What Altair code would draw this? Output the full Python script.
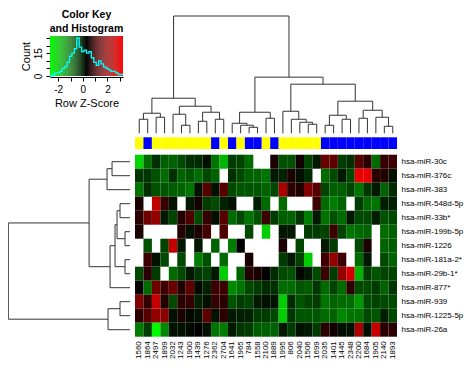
import altair as alt
import pandas as pd
import numpy as np

# ---------------- data ----------------
col_labels = ["1560","1864","2497","1899","2032","1243","1900","1439","1276","2362","2704",
              "1641","1965","784","1558","2100","1889","1995","806","2040","1506","1699",
              "2035","1401","1445","2348","2200","1684","1905","2140","1893"]
col_groups = ["Y","B","Y","Y","Y","Y","Y","Y","Y","B","Y","B","Y","B","B","Y","B",
              "Y","Y","Y","Y","Y","B","B","B","B","B","B","B","B","B"]
row_labels = ["hsa-miR-30c","hsa-miR-376c","hsa-miR-383","hsa-miR-548d-5p","hsa-miR-33b*",
              "hsa-miR-199b-5p","hsa-miR-1226","hsa-miR-181a-2*","hsa-miR-29b-1*",
              "hsa-miR-877*","hsa-miR-939","hsa-miR-1225-5p","hsa-miR-26a"]
N = None
z_30c  = [-2.2,-0.95,-0.25,-0.8,-0.85,-0.55,-0.25,-0.2,0.1,-1.05,-1.8,-0.4,-0.5,-0.95,N,N,0.6,-0.65,-0.65,0.5,-0.5,0.0,1.5,1.4,-0.4,-0.25,1.3,0.8,-0.95,0.9,1.0]
z_376c = [-0.35,-0.35,-0.65,-0.95,-0.25,-0.85,-0.7,-0.95,-0.55,-0.85,N,-0.25,-0.55,-0.85,-0.85,-1.05,0.0,-0.1,0.6,0.1,-0.2,N,-0.95,-0.55,0.0,-0.55,3.0,3.0,0.8,0.7,0.1]
z_383  = [-1.05,-0.25,-0.65,-0.7,-0.8,-0.85,-1.05,0.1,1.3,0.1,1.3,-0.55,-0.7,-0.7,-0.7,-0.85,-0.55,2.3,0.8,0.7,1.8,1.3,-0.5,-0.8,-0.8,-0.5,-1.05,-0.35,0.0,-0.85,-0.2]
z_548d = [0.6,N,2.5,0.9,0.1,N,0.0,0.5,-0.4,-0.55,-0.1,0.1,N,N,-0.05,-0.95,N,-0.95,N,N,N,1.0,-0.95,-1.15,-0.85,N,-0.4,-0.95,-1.05,-0.05,-0.05]
z_33b  = [0.8,1.6,2.0,0.0,-0.5,0.7,1.2,-0.55,0.9,0.1,1.3,-0.95,-0.55,-1.05,-0.65,1.0,-0.4,-0.8,-0.85,-0.35,-1.15,0.0,-1.05,-0.65,-0.95,0.0,-0.55,-0.55,-0.05,-0.65,-0.55]
z_199b = [0.6,N,N,N,N,0.7,0.1,0.6,1.1,N,1.2,N,N,-0.55,N,-2.1,N,0.0,0.0,N,-0.4,-0.4,-0.5,1.0,-0.5,-1.05,-0.95,-0.85,N,-0.95,-0.85]
z_1226 = [N,-0.65,N,-0.5,2.6,0.0,N,0.0,N,-0.85,N,-1.15,0.3,N,N,N,N,0.6,N,-0.5,N,N,0.0,-0.4,N,N,-0.55,0.6,N,-0.85,-0.8]
z_181a = [N,1.0,0.1,-0.55,N,-0.55,N,-1.15,-0.65,N,-0.95,N,N,0.6,N,N,N,-0.4,0.0,-0.5,-2.1,N,1.0,2.0,1.0,N,-0.95,0.0,N,-0.55,-0.85]
z_29b  = [-0.55,0.8,-0.4,N,-0.95,-0.55,0.0,-0.35,-0.5,0.0,-2.1,N,-0.85,0.7,0.6,0.3,-0.2,-0.55,-0.65,0.2,0.0,-0.55,1.0,-0.4,2.0,2.8,-1.8,-0.4,-0.7,-0.5,-0.5]
z_877  = [0.4,-0.95,1.6,1.0,1.5,0.7,1.4,0.2,-0.1,1.0,1.0,-1.3,-1.05,-0.55,-0.4,-0.2,-0.25,-0.95,-0.95,-0.7,-0.8,-0.35,-0.95,-0.5,-0.95,0.8,-0.55,-0.55,-0.4,-0.85,-0.35]
z_939  = [1.8,0.9,2.6,0.7,-0.55,0.8,0.9,-0.1,0.1,0.9,0.8,-0.65,-0.4,-0.5,0.0,0.1,0.1,-2.1,-0.2,-0.7,-0.5,-0.4,-1.05,-0.85,-0.95,-0.95,-1.5,-0.55,-0.5,-0.55,-0.55]
z_1225 = [0.8,1.3,2.0,1.9,0.1,0.6,0.2,0.1,1.4,0.1,0.8,0.0,-0.05,-0.1,-0.4,-0.4,-0.55,-2.1,-0.35,-0.7,-0.7,-0.7,-0.95,-0.85,-1.3,-1.05,-1.05,-0.55,-0.7,-0.05,-0.55]
z_26a  = [-1.15,-0.4,-2.6,-1.3,0.1,0.1,0.2,0.3,0.1,-1.05,-1.15,0.0,-0.35,-0.4,-0.8,-0.85,-0.85,0.0,-0.4,0.1,0.0,-0.4,0.8,0.5,0.1,0.1,2.3,0.1,2.6,0.8,0.8]
z_rows = [z_30c, z_376c, z_383, z_548d, z_33b, z_199b, z_1226, z_181a, z_29b, z_877, z_939, z_1225, z_26a]

# dendrogram merges (R hclust style: negative = leaf, positive = earlier merge), heights
col_merges = [(-1,-2,14),(-3,-4,16),(1,2,20),(-6,-7,8),(-5,4,19),(-8,-9,12),(-10,-11,14),
              (6,7,21),(5,8,27),(3,9,35),(-14,-15,6),(-13,11,8),(-12,12,10),(-16,-17,15),
              (13,14,21),(-21,-22,9),(-20,16,11),(-19,17,14),(-18,18,22),(-23,-24,8),
              (-25,-26,14),(20,21,18),(-27,-28,15),(-30,-31,7),(-29,24,16),(23,25,23),
              (22,26,32),(19,27,49),(15,28,56),(10,29,117)]
row_merges = [(-1,-2,18),(1,-3,23),(-4,-5,10),(-6,-7,5),(3,4,13),(-8,-9,5),(5,6,15),
              (7,-10,20),(2,8,41),(-11,-12,10),(10,-13,22),(9,11,122)]

# colour key histogram counts
hist_counts = [0,1,2,2,3,5,6,9,13,15,18,25,19,16,17,15,16,12,9,7,10,8,6,5,4,3,3,2,1,1]
key_min, key_max = -2.67, 3.26

# ---------------- layout (pixel ranges) ----------------
W, H = 456, 356
HX = [127, 389]
HY = [146.7, 328.7]
CB_Y = [129.3, 141]
CD_Y = [125.3, 8]
RD_X = [122, 0.3]
KX = [42, 115]
KY = [68, 28]
FONT = "Liberation Sans"

zscale = alt.Scale(domain=[key_min, (key_min + key_max) / 2, key_max],
                   range=["#00ff00", "#000000", "#ff0000"], interpolate="rgb")

def dendro_segments(merges):
    pos, hts, segs = {}, {}, []
    def getp(k):
        if k < 0:
            return (-k - 1, 0.0)
        return (pos[k], hts[k])
    for i, (a, b, h) in enumerate(merges, start=1):
        pa, ha = getp(a)
        pb, hb = getp(b)
        segs.append((pa, pa, ha, h))
        segs.append((pb, pb, hb, h))
        segs.append((pa, pb, h, h))
        pos[i] = (pa + pb) / 2
        hts[i] = h
    return pd.DataFrame(segs, columns=["p", "p2", "h", "h2"])

# heatmap
heat_df = pd.DataFrame([{"row": row_labels[i], "col": col_labels[j], "z": v}
                        for i, r in enumerate(z_rows) for j, v in enumerate(r) if v is not None])
xband = alt.Scale(domain=col_labels, range=HX, padding=0)
heat = alt.Chart(heat_df).mark_rect(strokeWidth=0).encode(
    x=alt.X("col:N", scale=xband,
            axis=alt.Axis(orient="bottom", offset=HY[1] - H, labelAngle=-90, ticks=False,
                          domain=False, title=None, labelFontSize=8, labelPadding=4,
                          labelFont=FONT, labelColor="#000", grid=False)),
    y=alt.Y("row:N", scale=alt.Scale(domain=row_labels, range=HY, padding=0),
            axis=alt.Axis(orient="right", offset=HX[1] - W, ticks=False, domain=False,
                          title=None, labelFontSize=8, labelPadding=4, labelFont=FONT,
                          labelColor="#000", grid=False)),
    color=alt.Color("z:Q", scale=zscale, legend=None),
)

# column side colour bar
cb_df = pd.DataFrame({"col": col_labels, "group": col_groups, "track": "g"})
colorbar = alt.Chart(cb_df).mark_rect(strokeWidth=0).encode(
    x=alt.X("col:N", scale=xband, axis=None),
    y=alt.Y("track:N", scale=alt.Scale(range=CB_Y, padding=0), axis=None),
    color=alt.Color("group:N", scale=alt.Scale(domain=["Y", "B"], range=["#ffff00", "#0000ff"]),
                    legend=None),
)

# column dendrogram
cd = dendro_segments(col_merges)
col_dendro = alt.Chart(cd).mark_rule(color="#333333", strokeWidth=1).encode(
    x=alt.X("p:Q", scale=alt.Scale(domain=[-0.5, len(col_labels) - 0.5], range=HX, nice=False, zero=False), axis=None),
    x2="p2:Q",
    y=alt.Y("h:Q", scale=alt.Scale(domain=[0, 117], range=CD_Y, nice=False, zero=False), axis=None),
    y2="h2:Q",
)

# row dendrogram
rd = dendro_segments(row_merges)
row_dendro = alt.Chart(rd).mark_rule(color="#333333", strokeWidth=1).encode(
    y=alt.Y("p:Q", scale=alt.Scale(domain=[-0.5, len(row_labels) - 0.5], range=HY, nice=False, zero=False), axis=None),
    y2="p2:Q",
    x=alt.X("h:Q", scale=alt.Scale(domain=[0, 122], range=RD_X, nice=False, zero=False), axis=None),
    x2="h2:Q",
)

# colour key gradient
nkey = 75
edges_k = np.linspace(key_min, key_max, nkey + 1)
ymax = max(hist_counts) / 0.95
grad_df = pd.DataFrame({"lo": edges_k[:-1], "hi": edges_k[1:],
                        "mid": (edges_k[:-1] + edges_k[1:]) / 2, "y0": 0.0, "y1": ymax})
kxs = alt.Scale(domain=[key_min, key_max], range=KX, nice=False, zero=False)
kys = alt.Scale(domain=[0, ymax], range=KY, nice=False, zero=False)
key_grad = alt.Chart(grad_df).mark_rect(strokeWidth=0).encode(
    x=alt.X("lo:Q", scale=kxs, axis=None), x2="hi:Q",
    y=alt.Y("y0:Q", scale=kys, axis=None), y2="y1:Q",
    color=alt.Color("mid:Q", scale=zscale, legend=None),
)

# histogram trace
edges_h = np.linspace(key_min, key_max, len(hist_counts) + 1)
hist_df = pd.DataFrame({"x": edges_h, "count": hist_counts + [hist_counts[-1]]})
key_hist = alt.Chart(hist_df).mark_line(color="#00ffff", strokeWidth=1.3, interpolate="step-after").encode(
    x=alt.X("x:Q", scale=kxs,
            axis=alt.Axis(orient="bottom", offset=69 - H, values=[-2, -1, 0, 1, 2, 3],
                          labelExpr="datum.value == -2 ? '-2' : (datum.value == 0 ? '0' : (datum.value == 2 ? '2' : ''))",
                          title="Row Z-Score", titleFontSize=11, titleFontWeight="normal",
                          titlePadding=3, labelFontSize=10, labelPadding=3, tickSize=4,
                          tickColor="#000", domainColor="#000", labelColor="#000", titleColor="#000",
                          labelFont=FONT, titleFont=FONT, grid=False, labelFlush=False)),
    y=alt.Y("count:Q", scale=kys,
            axis=alt.Axis(orient="left", offset=-KX[0], values=[0, 5, 10, 15, 20, 25],
                          labelExpr="datum.value == 0 ? '0' : (datum.value == 15 ? '15' : '')",
                          labelAngle=-90, labelAlign="center", labelBaseline="bottom",
                          title="Count", titleFontSize=11, titleFontWeight="normal", titlePadding=2,
                          labelFontSize=10, labelPadding=3, tickSize=4, tickColor="#000",
                          domainColor="#000", labelColor="#000", titleColor="#000",
                          labelFont=FONT, titleFont=FONT, grid=False, labelFlush=False)),
)

# key title
title_lines = ["Color Key", "and Histogram"]
title_df = pd.DataFrame({"line": title_lines, "x": [(key_min + key_max) / 2] * 2})
key_title = alt.Chart(title_df).mark_text(fontWeight="bold", fontSize=10.5, font=FONT,
                                          align="center", baseline="middle", color="#000").encode(
    x=alt.X("x:Q", scale=kxs, axis=None),
    y=alt.Y("line:N", scale=alt.Scale(domain=title_lines, range=[7, 21], padding=0), axis=None),
    text="line:N",
)

chart = alt.layer(col_dendro, row_dendro, colorbar, heat, key_grad, key_hist, key_title).resolve_scale(
    x="independent", y="independent", color="independent"
).properties(
    width=W, height=H, padding=0, autosize=alt.AutoSizeParams(type="none"), background="white"
).configure_view(stroke=None)

chart.save("out.html", embed_options={"renderer": "svg", "actions": False})
